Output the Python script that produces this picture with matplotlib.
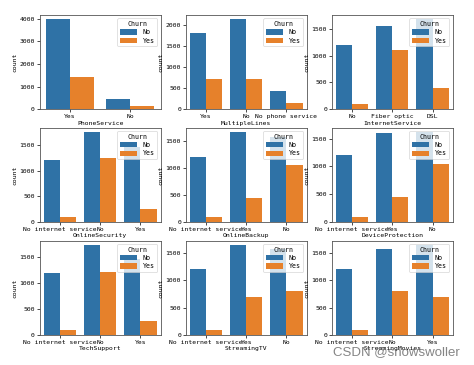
import matplotlib.pyplot as plt
import numpy as np
from matplotlib.ticker import MaxNLocator

plt.rcParams['font.family'] = ['DejaVu Sans Mono']

features = ['PhoneService', 'MultipleLines', 'InternetService',
            'OnlineSecurity', 'OnlineBackup', 'DeviceProtection',
            'TechSupport', 'StreamingTV', 'StreamingMovies']

categories = [
    ['Yes', 'No'],
    ['Yes', 'No', 'No phone service'],
    ['No', 'Fiber optic', 'DSL'],
    ['No internet service', 'No', 'Yes'],
    ['No internet service', 'Yes', 'No'],
    ['No internet service', 'Yes', 'No'],
    ['No internet service', 'No', 'Yes'],
    ['No internet service', 'Yes', 'No'],
    ['No internet service', 'No', 'Yes'],
]

# counts for Churn == 'No' / 'Yes'
churn_no = [
    [3970, 444],
    [1817, 2143, 437],
    [1200, 1544, 1670],
    [1200, 1746, 1468],
    [1200, 1652, 1562],
    [1200, 1602, 1612],
    [1200, 1737, 1477],
    [1200, 1640, 1574],
    [1200, 1573, 1641],
]
churn_yes = [
    [1435, 147],
    [714, 714, 159],
    [94, 1106, 394],
    [95, 1248, 252],
    [95, 447, 1053],
    [95, 450, 1038],
    [95, 1223, 277],
    [95, 699, 808],
    [95, 796, 704],
]

hue_labels = ['No', 'Yes']
colors = ['#2f72a6', '#e6812b']

fig, axes = plt.subplots(3, 3, figsize=(4.74, 3.65), dpi=100)
plt.subplots_adjust(left=0.084, right=0.955, bottom=0.082, top=0.959,
                    wspace=0.21, hspace=0.196)

fs = 4.6
for ax, feat, cats, no, yes in zip(axes.flat, features, categories, churn_no, churn_yes):
    x = np.arange(len(cats))
    ax.bar(x - 0.2, no, width=0.4, color=colors[0], label=hue_labels[0])
    ax.bar(x + 0.2, yes, width=0.4, color=colors[1], label=hue_labels[1])
    ax.set_xticks(x)
    ax.set_xticklabels(cats)
    ax.set_xlim(-0.5, len(cats) - 0.5)
    ax.yaxis.set_major_locator(MaxNLocator(nbins=5, steps=[1, 2, 5, 10]))
    ax.set_xlabel(feat, fontsize=fs, labelpad=1)
    ax.set_ylabel('count', fontsize=fs, labelpad=1.5)
    ax.tick_params(labelsize=fs, length=2, width=0.5, pad=1.5)
    for s in ax.spines.values():
        s.set_linewidth(0.6)
        s.set_color('#555555')
    leg = ax.legend(title='Churn', loc='upper right', fontsize=fs + 0.2,
                    title_fontsize=fs + 0.2, handlelength=2.6, handleheight=0.8,
                    borderpad=0.4, labelspacing=0.35)
    leg.get_frame().set_linewidth(0.5)

fig.text(0.97, 0.035, 'CSDN @snowswoller', ha='right', va='center',
         fontsize=9.5, color='#666666', alpha=0.8, family=['Liberation Sans'])

fig.savefig('out.png', dpi=100)
